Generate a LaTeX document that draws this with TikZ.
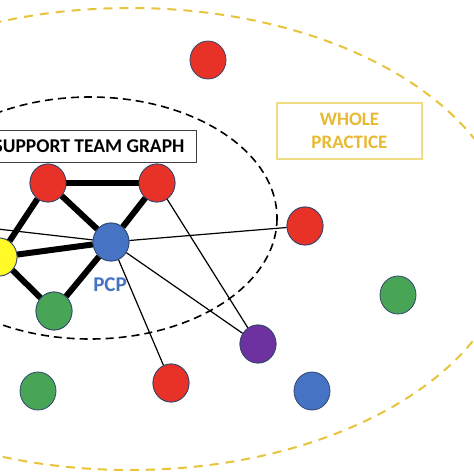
\documentclass[tikz,border=0pt]{standalone}
\usepackage{fontspec}
\setmainfont{Carlito}
\usetikzlibrary{shapes.geometric}
\definecolor{nred}{RGB}{232,50,40}
\definecolor{nblue}{RGB}{70,115,195}
\definecolor{ngreen}{RGB}{72,165,85}
\definecolor{npurple}{RGB}{110,50,160}
\definecolor{nyellow}{RGB}{255,250,40}
\definecolor{nborder}{RGB}{50,70,110}
\definecolor{gold}{RGB}{232,195,60}
\definecolor{goldtext}{RGB}{232,185,50}
\definecolor{goldbox}{RGB}{240,220,130}
\tikzset{
  dot/.style={ellipse, minimum width=36pt, minimum height=38pt, inner sep=0pt, draw=nborder, line width=0.8pt},
  thick edge/.style={line width=6pt, black},
  thin edge/.style={line width=1.2pt, black},
}
\begin{document}
\begin{tikzpicture}[x=1pt,y=-1pt]
\useasboundingbox (0,0) rectangle (474,474);
\fill[white] (0,0) rectangle (474,474);
% outer yellow dashed ellipse
\draw[gold, line width=2pt, dash pattern=on 9pt off 7pt] (130,239) ellipse [x radius=382, y radius=231];
% inner black dashed ellipse
\draw[black, line width=1.6pt, dash pattern=on 8pt off 5pt] (90,218) ellipse [x radius=187, y radius=121];
% nodes
\node[dot, fill=nred] (top) at (208,60) {};
\node[dot, fill=nred] (r1) at (48,183) {};
\node[dot, fill=nred] (r2) at (157,183) {};
\node[dot, fill=nblue] (pcp) at (111,242) {};
\node[dot, fill=nyellow] (y) at (-1,257) {};
\node[dot, fill=ngreen] (g) at (54,311) {};
\node[dot, fill=nred] (rr) at (305,226) {};
\node[dot, fill=ngreen] (gr) at (398,295) {};
\node[dot, fill=npurple] (pu) at (258,344) {};
\node[dot, fill=nred] (rb) at (171,383) {};
\node[dot, fill=ngreen] (gb) at (38,391) {};
\node[dot, fill=nblue] (bb) at (312,391) {};
\coordinate (offl) at (-20,227);
% edges
\draw[thin edge] (offl) -- (pcp);
\draw[thin edge] (pcp) -- (rr);
\draw[thin edge] (r2) -- (pu);
\draw[thin edge] (pcp) -- (pu);
\draw[thin edge] (pcp) -- (rb);
\draw[thick edge] (r1) -- (r2);
\draw[thick edge] (r1) -- (pcp);
\draw[thick edge] (r2) -- (pcp);
\draw[thick edge] (r1) -- (y);
\draw[thick edge] (y) -- (pcp);
\draw[thick edge] (y) -- (g);
\draw[thick edge] (g) -- (pcp);
% redraw nodes on top of edges
\foreach \n/\c in {r1/nred, r2/nred, pcp/nblue, y/nyellow, g/ngreen, rr/nred, pu/npurple, rb/nred}{
  \draw[nborder, line width=0.8pt, fill=\c] (\n.center) ellipse [x radius=18, y radius=19];
}
% labels
\node[draw=black!75, line width=1pt, fill=white, minimum height=32pt, anchor=east, inner xsep=12pt, font=\bfseries\fontsize{19.5}{19.5}\selectfont] (stg) at (197,146) {SUPPORT TEAM GRAPH};
\node[draw=goldbox, line width=1.5pt, minimum width=145pt, minimum height=56pt, align=center, text=goldtext, font=\bfseries\fontsize{19}{23}\selectfont] (wp) at (349.5,131) {WHOLE\\PRACTICE};
\node[text=nblue, font=\bfseries\fontsize{21}{21}\selectfont] (pcpl) at (110,285) {PCP};
\end{tikzpicture}
\end{document}
